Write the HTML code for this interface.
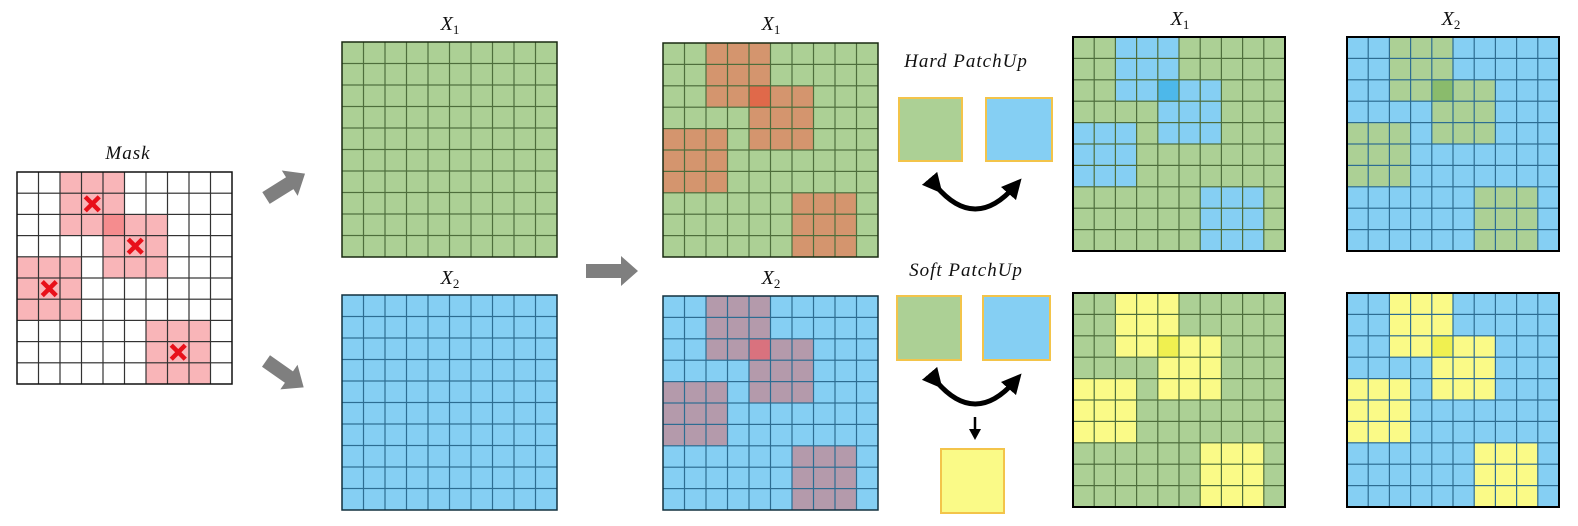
<!DOCTYPE html>
<html><head><meta charset="utf-8">
<style>
html,body{margin:0;padding:0;background:#fff;width:1578px;height:526px;overflow:hidden}
svg{display:block}
text{font-family:"Liberation Serif",serif;font-style:italic;fill:#111}
</style></head>
<body>
<svg id="s" width="1578" height="526" viewBox="0 0 1578 526" xmlns="http://www.w3.org/2000/svg">
<defs>
<marker id="ah" markerWidth="4" markerHeight="4" refX="2" refY="2" orient="auto" markerUnits="strokeWidth">
<path d="M0,0 L4,2 L0,4 Z" fill="#000"/></marker>
</defs>
<text x="128" y="159" font-size="19" text-anchor="middle" letter-spacing="1">Mask</text>
<text x="450" y="30" font-size="20" text-anchor="middle">X<tspan font-size="13" dy="4" font-style="normal">1</tspan></text>
<text x="450" y="284" font-size="20" text-anchor="middle">X<tspan font-size="13" dy="4" font-style="normal">2</tspan></text>
<text x="771" y="30" font-size="20" text-anchor="middle">X<tspan font-size="13" dy="4" font-style="normal">1</tspan></text>
<text x="771" y="284" font-size="20" text-anchor="middle">X<tspan font-size="13" dy="4" font-style="normal">2</tspan></text>
<text x="1180" y="25" font-size="20" text-anchor="middle">X<tspan font-size="13" dy="4" font-style="normal">1</tspan></text>
<text x="1451" y="25" font-size="20" text-anchor="middle">X<tspan font-size="13" dy="4" font-style="normal">2</tspan></text>
<text x="966" y="67" font-size="19" text-anchor="middle" letter-spacing="1">Hard PatchUp</text>
<text x="966" y="276" font-size="19" text-anchor="middle" letter-spacing="1">Soft PatchUp</text>

<g fill="#7f7f7f">
<polygon points="0,-7 28,-7 28,-15 46,0 28,15 28,7 0,7" transform="translate(266,198) rotate(-32)"/>
<polygon points="0,-7 28,-7 28,-15 46,0 28,15 28,7 0,7" transform="translate(266,361) rotate(35)"/>
<polygon points="0,-7 35,-7 35,-15 52,0 35,15 35,7 0,7" transform="translate(586,271)"/>
</g>

<g stroke="#f3c44a" stroke-width="2">
<rect x="899" y="98" width="63" height="63" fill="#acd095"/>
<rect x="986" y="98" width="66" height="63" fill="#85cff3"/>
<rect x="897" y="296" width="64" height="64" fill="#acd095"/>
<rect x="983" y="296" width="67" height="64" fill="#85cff3"/>
<rect x="941" y="449" width="63" height="64" fill="#fafa87"/>
</g>
<g fill="none" stroke="#000" stroke-width="5">
<path d="M936,186 Q975,232 1015,186" marker-start="url(#ah)" marker-end="url(#ah)"/>
<path d="M936,381 Q975,427 1015,381" marker-start="url(#ah)" marker-end="url(#ah)"/>
</g>
<line x1="975" y1="417" x2="975" y2="430" stroke="#000" stroke-width="2.5"/>
<polygon points="969,429 981,429 975,440" fill="#000"/>
<g id="grids"></g>
</svg>
<script>
var NS="http://www.w3.org/2000/svg",G=document.getElementById("grids");
function r(x,y,w,h,f,st,sw){var e=document.createElementNS(NS,"rect");e.setAttribute("x",x);e.setAttribute("y",y);e.setAttribute("width",w);e.setAttribute("height",h);e.setAttribute("fill",f||"none");if(st){e.setAttribute("stroke",st);e.setAttribute("stroke-width",sw||1);}G.appendChild(e);}
var P=[[2,0],[4,2],[0,4],[6,7]];
function inP(c,rw){var n=0;P.forEach(function(p){if(c>=p[0]&&c<p[0]+3&&rw>=p[1]&&rw<p[1]+3)n++;});return n;}
function grid(x,y,w,h,base,line,pc,oc,border,bw){
 var cw=w/10,ch=h/10;
 for(var i=0;i<10;i++)for(var j=0;j<10;j++){var n=inP(i,j);var f=n==0?base:(n==1?pc:oc);r(x+i*cw,y+j*ch,cw,ch,f);}
 for(var k=1;k<10;k++){r(x+k*cw-0.6,y,1.2,h,line);r(x,y+k*ch-0.6,w,1.2,line);}
 r(x,y,w,h,"none",border,bw);
}
grid(17,172,215,212,"#ffffff","#333","#f9b5b8","#f58c8e","#111",1.5);
[[3,1],[5,3],[1,5],[7,8]].forEach(function(p){var cx=17+(p[0]+0.5)*21.5,cy=172+(p[1]+0.5)*21.2;var g=document.createElementNS(NS,"path");g.setAttribute("d","M"+(cx-7)+","+(cy-7)+"L"+(cx+7)+","+(cy+7)+"M"+(cx+7)+","+(cy-7)+"L"+(cx-7)+","+(cy+7));g.setAttribute("stroke","#e8101a");g.setAttribute("stroke-width","4.5");G.appendChild(g);});
grid(342,42,215,215,"#acd095","#4e6e3c","#acd095","#acd095","#1a2a12",1.5);
grid(342,295,215,215,"#85cff3","#2d6d92","#85cff3","#85cff3","#12303f",1.5);
grid(663,43,215,214,"#acd095","#4e6e3c","#d4956e","#e0694a","#1a2a12",1.5);
grid(663,296,215,214,"#85cff3","#2d6d92","#b49aab","#d9727e","#12303f",1.5);
grid(1073,37,212,214,"#acd095","#4e6e3c","#85cff3","#4db8ea","#000",2);
grid(1347,37,212,214,"#85cff3","#2d6d92","#acd095","#8abb6c","#000",2);
grid(1073,293,212,214,"#acd095","#4e6e3c","#fafa87","#f0f050","#000",2);
grid(1347,293,212,214,"#85cff3","#2d6d92","#fafa87","#f0f050","#000",2);
</script>
</body></html>
